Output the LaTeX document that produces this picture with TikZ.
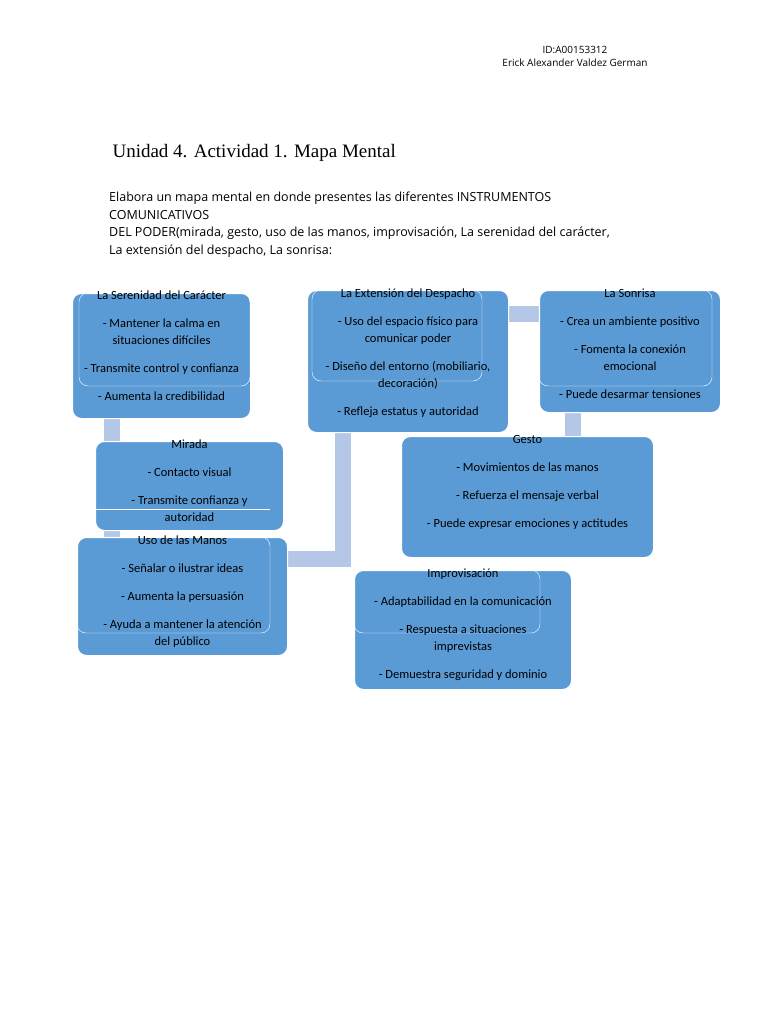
\documentclass[tikz,border=0pt]{standalone}
\usepackage{fontspec}
\setmainfont{Carlito}
\newfontfamily\opensans{Open Sans}
\newfontfamily\titlefont{Liberation Serif}
\definecolor{boxblue}{HTML}{5B9BD5}
\definecolor{linkblue}{HTML}{B4C7E7}
\tikzset{
  idea/.style={rectangle,rounded corners=9pt,fill=boxblue,draw=white,line width=1pt,anchor=north west,inner sep=0pt},
  ideatext/.style={anchor=north,align=center,font=\fontsize{12.5}{17}\selectfont,inner sep=0pt},
  link/.style={linkblue,line width=16pt}
}
\begin{document}
\begin{tikzpicture}[x=1pt,y=-1pt]
\useasboundingbox[fill=white] (0,0) rectangle (768,1024);

% heading
\node[font=\opensans\fontsize{10}{13}\selectfont,align=center] (id) at (575,56) {ID:A00153312\\Erick Alexander Valdez German};
\node[anchor=west,font=\titlefont\fontsize{19}{22}\selectfont] (title) at (109,153) {Unidad 4. Actividad 1. Mapa Mental};
\node[anchor=north west,align=left,inner sep=0pt,font=\opensans\fontsize{12.5}{17.5}\selectfont] (task) at (109,192)
  {Elabora un mapa mental en donde presentes las diferentes INSTRUMENTOS\\COMUNICATIVOS\\DEL PODER(mirada, gesto, uso de las manos, improvisación, La serenidad del carácter,\\La extensión del despacho, La sonrisa:};

% connectors (drawn first)
\coordinate (bend) at (343,559);
\draw[link] (112,418) -- (112,441);
\draw[link] (112,530) -- (112,537);
\draw[link] (508,314) -- (539,314);
\draw[link] (573,412) -- (573,436);
\draw[link] (343,432) -- (bend) -- (287,559);

% boxes
\node[idea,minimum width=178,minimum height=125] (serenidad) at (72,293) {};
\node[idea,minimum width=201,minimum height=142] (despacho) at (307,290) {};
\node[idea,minimum width=181,minimum height=122] (sonrisa) at (539,290) {};
\node[idea,minimum width=188,minimum height=89] (mirada) at (95,441) {};
\node[idea,minimum width=252,minimum height=121] (gesto) at (401,436) {};
\node[idea,minimum width=210,minimum height=118] (manos) at (77,537) {};
\node[idea,minimum width=217,minimum height=119] (improvisacion) at (354,570) {};

% white outlines
\draw[white,rounded corners=9pt] (79,293) rectangle (250,386);
\draw[white,rounded corners=9pt] (312,290) rectangle (482,381);
\draw[white,rounded corners=9pt] (539,290) rectangle (712,386);
\draw[white] (95,509) -- (270,509);
\draw[white,rounded corners=9pt] (77,537) rectangle (270,633);
\draw[white,rounded corners=9pt] (354,570) rectangle (540,633);

% texts
\node[ideatext] (t1) at ([yshift=2]serenidad.north) {La Serenidad del Carácter\\[11pt]- Mantener la calma en\\situaciones difíciles\\[11pt]- Transmite control y confianza\\[11pt]- Aumenta la credibilidad};
\node[ideatext] (t2) at ([yshift=1]despacho.north) {La Extensión del Despacho\\[11pt]- Uso del espacio físico para\\comunicar poder\\[11pt]- Diseño del entorno (mobiliario,\\decoración)\\[11pt]- Refleja estatus y autoridad};
\node[ideatext] (t3) at ([yshift=1]sonrisa.north) {La Sonrisa\\[11pt]- Crea un ambiente positivo\\[11pt]- Fomenta la conexión\\emocional\\[11pt]- Puede desarmar tensiones};
\node[ideatext] (t4) at ([yshift=1]mirada.north) {Mirada\\[11pt]- Contacto visual\\[11pt]- Transmite confianza y\\autoridad};
\node[ideatext] (t5) at ([yshift=1]gesto.north) {Gesto\\[11pt]- Movimientos de las manos\\[11pt]- Refuerza el mensaje verbal\\[11pt]- Puede expresar emociones y actitudes};
\node[ideatext] (t6) at ([yshift=1]manos.north) {Uso de las Manos\\[11pt]- Señalar o ilustrar ideas\\[11pt]- Aumenta la persuasión\\[11pt]- Ayuda a mantener la atención\\del público};
\node[ideatext] (t7) at ([yshift=1]improvisacion.north) {Improvisación\\[11pt]- Adaptabilidad en la comunicación\\[11pt]- Respuesta a situaciones\\imprevistas\\[11pt]- Demuestra seguridad y dominio};
\end{tikzpicture}
\end{document}
